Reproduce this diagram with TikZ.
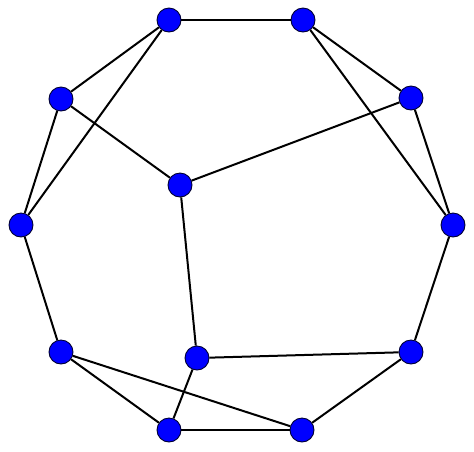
\documentclass[tikz,border=0pt]{standalone}
\usepackage{tikz}

\begin{document}
\begin{tikzpicture}[x=1pt,y=-1pt,
  vertex/.style={circle,fill=blue,draw=black!80!blue,line width=0.9pt,minimum size=24pt,inner sep=0pt},
  edge/.style={line width=2pt,black}]
\useasboundingbox (0,0) rectangle (474,451);
\node[vertex](a) at (169,20) {};
\node[vertex](b) at (303,20) {};
\node[vertex](c) at (61,99) {};
\node[vertex](d) at (411,98) {};
\node[vertex](e) at (180,185) {};
\node[vertex](f) at (21,225) {};
\node[vertex](g) at (453,225) {};
\node[vertex](h) at (61,352) {};
\node[vertex](i) at (197,358) {};
\node[vertex](j) at (411,352) {};
\node[vertex](k) at (169,430) {};
\node[vertex](l) at (302,430) {};

\draw[edge] (a)--(b);
\draw[edge] (a)--(c);
\draw[edge] (a)--(f);
\draw[edge] (b)--(d);
\draw[edge] (b)--(g);
\draw[edge] (c)--(e);
\draw[edge] (c)--(f);
\draw[edge] (d)--(e);
\draw[edge] (d)--(g);
\draw[edge] (e)--(i);
\draw[edge] (f)--(h);
\draw[edge] (g)--(j);
\draw[edge] (h)--(k);
\draw[edge] (h)--(l);
\draw[edge] (i)--(j);
\draw[edge] (i)--(k);
\draw[edge] (k)--(l);
\draw[edge] (j)--(l);

\end{tikzpicture}
\end{document}
